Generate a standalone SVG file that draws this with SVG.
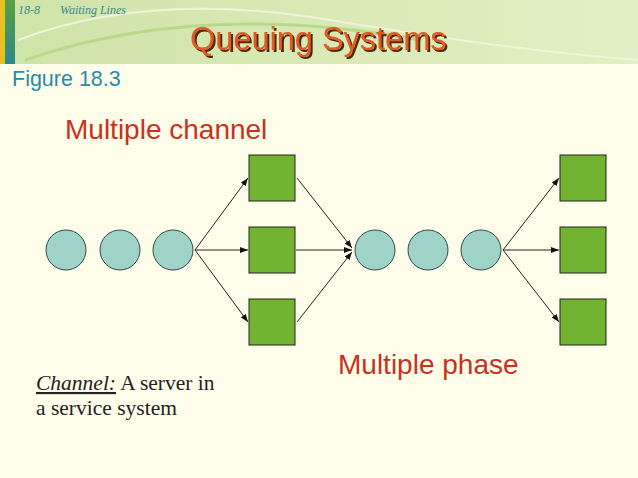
<svg xmlns="http://www.w3.org/2000/svg" width="638" height="478" viewBox="0 0 638 478">
<defs>
<linearGradient id="hdr" x1="0" y1="0" x2="1" y2="0"><stop offset="0" stop-color="#cfe3a8"/><stop offset="1" stop-color="#e3efc4"/></linearGradient>
<linearGradient id="bar" x1="0" y1="0" x2="0" y2="1"><stop offset="0" stop-color="#5aa040"/><stop offset="1" stop-color="#2a8a8a"/></linearGradient>
<filter id="sh" x="-5%" y="-20%" width="110%" height="140%"><feDropShadow dx="2" dy="2" stdDeviation="0.3" flood-color="#4a2a10"/></filter>
<marker id="ah" markerWidth="8" markerHeight="6" refX="8" refY="3" orient="auto" markerUnits="userSpaceOnUse"><path d="M0,0 L8,3 L0,6 z" fill="#111"/></marker>
<style>
.c{fill:#9fd3c7;stroke:#2d4d4d;stroke-width:1}
.s{fill:#72b431;stroke:#222;stroke-width:1}
.l{stroke:#222;stroke-width:1;fill:none;marker-end:url(#ah)}
.red{font-family:"Liberation Sans",Arial,sans-serif;font-size:28px;fill:#c8321e}
.ser{font-family:"Liberation Serif","Times New Roman",serif;font-size:21.5px;fill:#222}
</style>
</defs>
<rect width="638" height="478" fill="#fdfde9"/>
<rect width="638" height="64" fill="url(#hdr)"/>
<path d="M18,40 Q150,-10 330,20 T638,60" stroke="#eef5d8" stroke-width="2" fill="none"/>
<path d="M25,60 Q200,0 420,40" stroke="#b9d98a" stroke-width="3" fill="none"/>
<rect x="0" y="0" width="5" height="64" fill="#e8c020"/>
<rect x="5" y="0" width="10" height="64" fill="url(#bar)"/>
<text x="18" y="14" font-family="Liberation Serif,serif" font-style="italic" font-size="12" fill="#3a8a8a">18-8</text>
<text x="60" y="14" font-family="Liberation Serif,serif" font-style="italic" font-size="12" fill="#3a8a8a">Waiting Lines</text>
<text x="190" y="50" font-family="Liberation Sans,Arial,sans-serif" font-size="32.5" fill="#e05a20" filter="url(#sh)">Queuing Systems</text>
<text x="12" y="86" font-family="Liberation Sans,Arial,sans-serif" font-size="21.5" fill="#2b8aa8">Figure 18.3</text>
<text x="65" y="139" class="red">Multiple channel</text>
<text x="338" y="374" class="red">Multiple phase</text>
<text x="36" y="390" class="ser"><tspan font-style="italic" text-decoration="underline">Channel:</tspan> A server in</text>
<text x="36" y="415" class="ser">a service system</text>
<g id="connectors">
<line x1="195" y1="250" x2="248" y2="178" class="l"/>
<line x1="195" y1="250" x2="248" y2="250" class="l"/>
<line x1="195" y1="250" x2="248" y2="322" class="l"/>
<line x1="297" y1="178" x2="352" y2="248" class="l"/>
<line x1="296" y1="250" x2="352" y2="250" class="l"/>
<line x1="297" y1="322" x2="352" y2="252" class="l"/>
<line x1="503" y1="250" x2="559" y2="178" class="l"/>
<line x1="503" y1="250" x2="559" y2="250" class="l"/>
<line x1="503" y1="250" x2="559" y2="322" class="l"/>
</g>
<g id="c1"><circle cx="66" cy="250" r="20" class="c"/></g>
<g id="c2"><circle cx="120" cy="250" r="20" class="c"/></g>
<g id="c3"><circle cx="173" cy="250" r="20" class="c"/></g>
<g id="c4"><circle cx="375" cy="250" r="20" class="c"/></g>
<g id="c5"><circle cx="428" cy="250" r="20" class="c"/></g>
<g id="c6"><circle cx="481" cy="250" r="20" class="c"/></g>
<g id="s1"><rect x="249" y="155" width="46" height="46" class="s"/></g>
<g id="s2"><rect x="249" y="227" width="46" height="46" class="s"/></g>
<g id="s3"><rect x="249" y="299" width="46" height="46" class="s"/></g>
<g id="s4"><rect x="560" y="155" width="46" height="46" class="s"/></g>
<g id="s5"><rect x="560" y="227" width="46" height="46" class="s"/></g>
<g id="s6"><rect x="560" y="299" width="46" height="46" class="s"/></g>
</svg>
